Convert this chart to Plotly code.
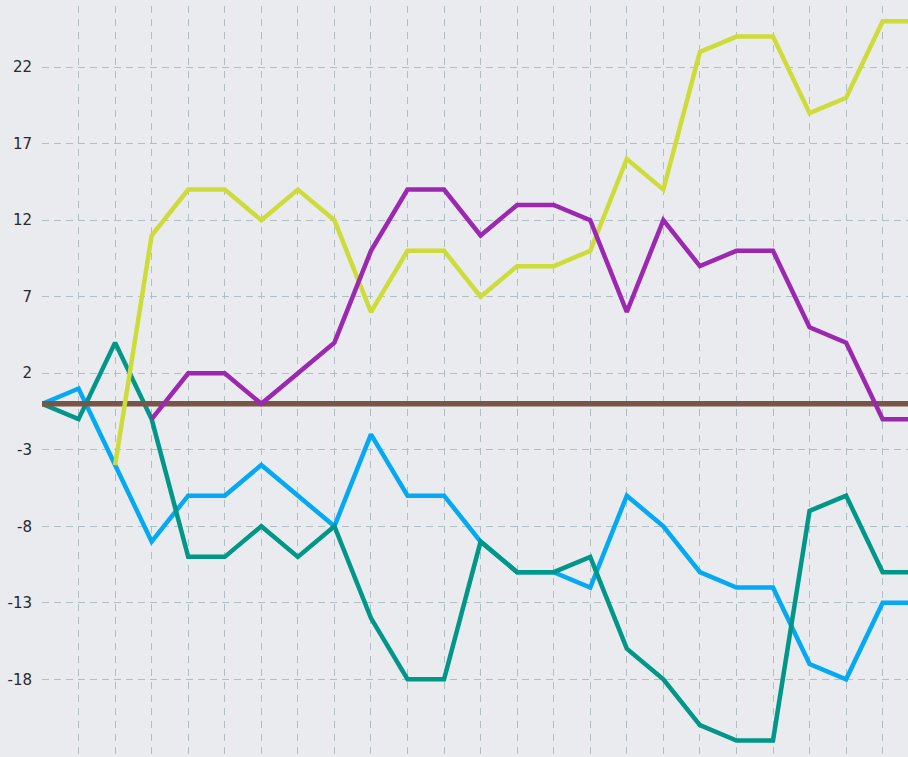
import plotly.graph_objects as go

x = list(range(25))
lime = [None, None, -4, 11, 14, 14, 12, 14, 12, 6, 10, 10, 7, 9, 9, 10, 16, 14, 23, 24, 24, 19, 20, 25, 25]
purple = [None, None, None, -1, 2, 2, 0, 2, 4, 10, 14, 14, 11, 13, 13, 12, 6, 12, 9, 10, 10, 5, 4, -1, -1]
blue = [0, 1, -4, -9, -6, -6, -4, -6, -8, -2, -6, -6, -9, -11, -11, -12, -6, -8, -11, -12, -12, -17, -18, -13, -13]
teal = [0, -1, 4, -1, -10, -10, -8, -10, -8, -14, -18, -18, -9, -11, -11, -10, -16, -18, -21, -22, -22, -7, -6, -11, -11]
brown = [0] * 25
yticks = [-18, -13, -8, -3, 2, 7, 12, 17, 22]

fig = go.Figure()
def add(y, color, w=4.5):
    fig.add_trace(go.Scatter(x=x, y=y, mode="lines", line=dict(color=color, width=w),
                             connectgaps=False, showlegend=False, hoverinfo="skip"))

add(blue, "#03a9f4")
add(teal, "#009688")
add(brown, "#795548", 5.5)
add(lime, "#cddc39")
add(purple, "#9c27b0")

fig.update_layout(
    width=908, height=757,
    margin=dict(l=42, r=0, t=6, b=0),
    paper_bgcolor="#e9ebef", plot_bgcolor="#e9ebef",
    font=dict(family="DejaVu Sans", size=15, color="#2a2a2a"),
    showlegend=False,
)
fig.update_xaxes(range=[0, (908 - 42) / 36.55], tickvals=list(range(1, 24)), showticklabels=False,
                 showgrid=True, gridcolor="#b0bec5", griddash="7px,6px", gridwidth=1.2,
                 zeroline=False, showline=False, ticks="")
fig.update_yaxes(range=[-23.08, 26.0], tickvals=yticks, ticktext=[str(v) for v in yticks],
                 showgrid=True, gridcolor="#b0bec5", griddash="7px,5px", gridwidth=1.2,
                 zeroline=False, showline=False, ticks="", ticklabelstandoff=9)

fig.write_html("out.html", config={"displayModeBar": False},
               post_script="document.body.style.margin='0';document.body.style.overflow='hidden';document.body.style.background='#e9ebef';")
